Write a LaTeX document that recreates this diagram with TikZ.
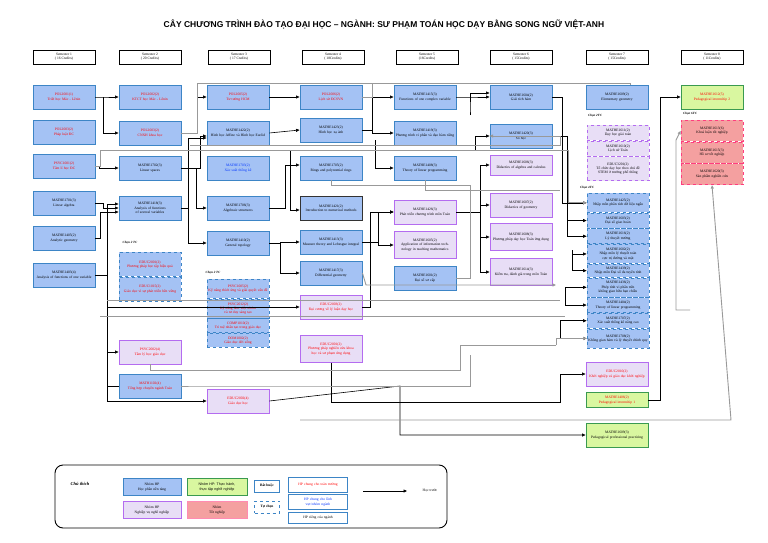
\documentclass[tikz,border=0pt]{standalone}
\usepackage{fontspec}
\setmainfont{Liberation Serif}
\newfontfamily\titlef{Liberation Sans}
\usetikzlibrary{arrows.meta,positioning}
\definecolor{bfill}{HTML}{A4C2F4}
\definecolor{bdraw}{HTML}{3D85C6}
\definecolor{pfill}{HTML}{E8DEF6}
\definecolor{pdraw}{HTML}{B46CF0}
\definecolor{gfill}{HTML}{D9F7A0}
\definecolor{gdraw}{HTML}{3A9A50}
\definecolor{rfill}{HTML}{F4A0A0}
\definecolor{rdraw}{HTML}{FF3D7F}
\begin{document}
\begin{tikzpicture}[x=1pt,y=-1pt,
 every node/.style={font=\fontsize{3.6}{4.3}\selectfont, align=center},
 base/.style={draw, line width=0.9pt, minimum width=62pt, minimum height=24pt, text width=60pt, inner sep=1pt},
 blu/.style={base, fill=bfill, draw=bdraw},
 pur/.style={base, fill=pfill, draw=pdraw},
 grn/.style={base, fill=gfill, draw=gdraw},
 dblu/.style={draw=bdraw, dashed, line width=0.7pt, fill=bfill, minimum width=62pt, text width=60pt, inner sep=0.5pt},
 dpur/.style={draw=pdraw, dashed, line width=0.7pt, fill=pfill, minimum width=62pt, text width=60pt, inner sep=0.5pt},
 drd/.style={draw=rdraw, dashed, line width=0.7pt, fill=rfill, minimum width=62pt, text width=60pt, inner sep=0.5pt},
 sem/.style={draw, line width=0.8pt, minimum width=62pt, minimum height=14pt, fill=white},
 hr/.style={text=red}, hb/.style={text=blue!80!cyan},
 lab/.style={font=\fontsize{3.2}{4}\selectfont\itshape\bfseries},
 ar/.style={-{Triangle[length=3.5pt,width=3pt]}, line width=0.6pt},
 gar/.style={-{Triangle[length=3.5pt,width=3pt]}, line width=0.9pt, draw=gray!80},
 gl/.style={line width=0.9pt, draw=gray!80},
 node distance=0pt]
\useasboundingbox (0,0) rectangle (768,543);
\fill[white] (0,0) rectangle (768,543);
\node[font=\titlef\bfseries\fontsize{8.5}{10}\selectfont] (title) at (384,24) {CÂY CHƯƠNG TRÌNH ĐÀO TẠO ĐẠI HỌC – NGÀNH: SƯ PHẠM TOÁN HỌC DẠY BẰNG SONG NGỮ VIỆT-ANH};
\foreach \i/\x/\c in {1/64/{( 16 Credits)},2/150/{( 20 Credits)},3/239/{( 17 Credits)},4/333/{( 18Credits)},5/427/{(16Credits)},6/521/{( 15Credits)},7/617/{( 15Credits)},8/712/{( 11Credits)}}
 \node[sem] (s\i) at (\x,57) {Semester \i\\ \c};
% column 1
\node[blu,hr] (a1) at (64,97) {POL2001(1)\\ Triết học Mác - Lênin};
\node[blu,hr] (a2) at (64,132) {POL2003(2)\\ Pháp luật ĐC};
\node[blu,hr] (a3) at (64,166) {PSYC1001(2)\\ Tâm lí học ĐC};
\node[blu] (a4) at (64,203) {MATHE1701(3)\\ Linear algebra};
\node[blu] (a5) at (64,238) {MATHE1405(2)\\ Analytic geometry};
\node[blu] (a6) at (64,275) {MATHE1403(4)\\ Analysis of functions of one variable};
% column 2
\node[blu,hr] (b1) at (150,97) {POL2002(2)\\ KTCT học Mác - Lênin};
\node[blu,hr] (b2) at (150,133) {POL2003(2)\\ CNXH khoa học};
\node[blu] (b3) at (150,168) {MATHE1702(3)\\ Linear spaces};
\node[blu] (b4) at (150,208) {MATHE1418(3)\\ Analysis of functions of several variables};
\node[lab] at (130,243) {Chọn 2 TC};
\node[dblu,hr,minimum height=24pt,anchor=north] (b5) at (150,252) {EDUC2001(2)\\ Phương pháp học tập hiệu quả};
\node[dblu,hr,minimum height=24pt,below=of b5] (b6) {EDUC1015(2)\\ Giáo dục vì sự phát triển bền vững};
\node[pur,hr] (b7) at (150,352) {PSYC2002(4)\\ Tâm lý học giáo dục};
\node[blu,hr] (b8) at (150,386) {MATH1102(4)\\ Tổng hợp chuyên ngành Toán};
% column 3
\node[blu,hr] (c1) at (238,97) {POL2005(2)\\ Tư tưởng HCM};
\node[blu] (c2) at (238,133) {MATHE1422(2)\\ Hình học Affine và Hình học Euclid};
\node[blu,hb] (c3) at (238,168) {MATHE1703(2)\\ Xác suất thống kê};
\node[blu] (c4) at (238,208) {MATHE1706(3)\\ Algebraic structures};
\node[blu] (c5) at (238,243) {MATHE1410(2)\\ General topology};
\node[lab] at (213,273) {Chọn 2 TC};
\node[dblu,hr,minimum height=19pt,anchor=north] (c6) at (238,279) {PSYC1005(2)\\ Kỹ năng thích ứng và giải quyết vấn đề};
\node[dblu,hr,minimum height=19pt,below=of c6] (c7) {PSYC2012(2)\\ Kỹ năng làm việc nhóm và tư duy sáng tạo};
\node[dblu,hr,minimum height=14pt,below=of c7] (c8) {COMP1010(2)\\ Trí tuệ nhân tạo trong giáo dục};
\node[dblu,hr,minimum height=14pt,below=of c8] (c9) {DOM1002(2)\\ Giáo dục đời sống};
\node[pur,hr] (c10) at (238,401) {EDUC2002(4)\\ Giáo dục học};
% column 4
\node[blu,hr] (d1) at (331,97) {POL2006(2)\\ Lịch sử ĐCSVN};
\node[blu] (d2) at (331,130) {MATHE1423(2)\\ Hình học xạ ảnh};
\node[blu] (d3) at (331,168) {MATHE1705(2)\\ Rings and polynomial rings};
\node[blu,draw=black!80] (d4) at (331,208) {MATHE1421(2)\\ Introduction to numerical methods};
\node[blu] (d5) at (331,242) {MATHE1413(3)\\ Measure theory and Lebesgue integral};
\node[blu] (d6) at (331,273) {MATHE1417(3)\\ Differential geometry};
\node[pur,hr] (d7) at (331,307) {EDUC2003(2)\\ Đại cương về lý luận dạy học};
\node[pur,hr,minimum height=27pt] (d8) at (331,349) {EDUC2001(2)\\ Phương pháp nghiên cứu khoa học và sư phạm ứng dụng};
% column 5
\node[blu] (e1) at (425,97) {MATHE1415(3)\\ Functions of one complex variable};
\node[blu] (e2) at (425,133) {MATHE1419(3)\\ Phương trình vi phân và đạo hàm riêng};
\node[blu] (e3) at (425,168) {MATHE1408(3)\\ Theory of linear programming};
\node[pur] (e4) at (425,212) {MATHE1426(3)\\ Phát triển chương trình môn Toán};
\node[pur,minimum height=27pt] (e5) at (425,245) {MATHE1605(2)\\ Application of information technology in teaching mathematics};
\node[blu] (e6) at (425,278) {MATHE1601(2)\\ Đại số sơ cấp};
% column 6
\node[blu] (f1) at (521,97) {MATHE1604(2)\\ Giải tích hàm};
\node[blu] (f2) at (521,136) {MATHE1420(3)\\ Số học};
\node[pur,minimum height=20pt] (f3) at (521,165) {MATHE1606(3)\\ Didactics of algebra and calculus};
\node[pur] (f4) at (521,205) {MATHE1607(2)\\ Didactics of geometry};
\node[pur,minimum height=27pt] (f5) at (521,237) {MATHE1608(3)\\ Phương pháp dạy học Toán ứng dụng};
\node[pur,minimum height=27pt] (f6) at (521,272) {MATHE1614(3)\\ Kiểm tra, đánh giá trong môn Toán};
% column 7
\node[blu] (g1) at (617,97) {MATHE1609(2)\\ Elementary geometry};
\node[lab] at (595,116) {Chọn 2TC};
\node[dpur,minimum height=15pt,anchor=north] (g2) at (618,125) {MATHE1611(2)\\ Dạy học giải toán};
\node[dpur,minimum height=15pt,below=of g2] (g3) {MATHE1610(2)\\ Lịch sử Toán};
\node[dpur,minimum height=24pt,below=of g3] (g4) {EDUC3201(2)\\ Tổ chức dạy học theo chủ đề STEM ở trường phổ thông};
\node[lab] at (587,188) {Chọn 4TC};
\node[dblu,minimum height=19pt,anchor=north] (h1) at (618,193) {MATHE1425(2)\\ Nhập môn phân tích dữ liệu ngẫu};
\node[dblu,minimum height=15pt,below=of h1] (h2) {MATHE1603(2)\\ Đại số giao hoán};
\node[dblu,minimum height=15pt,below=of h2] (h3) {MATHE1616(2)\\ Lý thuyết trường};
\node[dblu,minimum height=19pt,below=of h3] (h4) {MATHE1602(2)\\ Nhập môn lý thuyết toán cực trị đường và mặt};
\node[dblu,minimum height=13pt,below=of h4] (h5) {MATHE1439(2)\\ Nhập môn Đại số đa tuyến tính};
\node[dblu,minimum height=19pt,below=of h5] (h6) {MATHE1436(2)\\ Phép tính vi phân trên không gian hữu hạn chiều};
\node[dblu,minimum height=15pt,below=of h6] (h7) {MATHE1404(2)\\ Theory of linear programming};
\node[dblu,minimum height=15pt,below=of h7] (h8) {MATHE1707(2)\\ Xác suất thống kê nâng cao};
\node[dblu,minimum height=19pt,below=of h8] (h9) {MATHE1708(2)\\ Không gian hàm và lý thuyết chính quy};
\node[pur,hr] (g5) at (617,374) {EDUC2010(2)\\ Khởi nghiệp và giáo dục khởi nghiệp};
\node[grn,hr,minimum height=15pt] (g6) at (617,400) {MATHE1406(2)\\ Pedagogical internship 1};
\node[grn,minimum height=24pt] (g7) at (617,435) {MATHE1609(3)\\ Pedagogical professional practicing};
% column 8
\node[grn,hr] (k1) at (712,97) {MATHE1612(5)\\ Pedagogical internship 2};
\node[lab] at (690,114) {Chọn 6TC};
\node[drd,minimum height=21pt,anchor=north] (k2) at (712,120) {MATHE1613(6)\\ Khoá luận tốt nghiệp};
\node[drd,minimum height=21pt,below=of k2] (k3) {MATHE1615(3)\\ Hồ sơ tốt nghiệp};
\node[drd,minimum height=21pt,below=of k3] (k4) {MATHE1620(3)\\ Sản phẩm nghiên cứu};
% ---- connectors (black)
\draw[ar] (a1.east) -- (103,97) |- (b1.west);
\draw[ar] (103,97) |- (b2.west);
\draw[ar] (b2.east) -- (197,133) |- (c1.west);
\draw[ar] (c1.east) -- (d1.west);
\draw[ar] (c2.east) -- (d2.west);
\draw[ar] (a3.east) -- (99,166) |- (b3.west);
\draw[ar] (a4.east) -- (103,203) |- (b4.west);
\draw[ar] (a5.east) -- (100,238) |- ([yshift=-4pt]b4.west);
\draw[ar] (a6.east) -- (107,275) |- ([yshift=4pt]b4.west);
\draw[ar] (107,275) |- (b7.west);
\draw[ar] (107,350) |- (c10.west);
\draw[ar] (b3.east) -- (200,168) |- ([yshift=-3pt]c2.west);
\draw[ar] (b4.east) -- (188,208) |- (c5.west);
\draw[ar] (188,208) |- ([yshift=-5pt]c2.west);
\draw[ar] (196,168) |- (c4.west);
\draw[ar] (c4.east) -- (285,208) |- ([yshift=3pt]d3.west);
\draw[ar] (c5.east) -- (280,243) |- (d5.west);
\draw[ar] (280,243) |- (d6.west);
\draw[ar] (290,150) |- ([yshift=-2pt]d4.west);
\draw[ar] (d2.east) -- (372,130) |- (e1.west);
\draw[ar] (372,130) |- (e2.west);
\draw[ar] (375,140) |- (e3.west);
\draw[ar] (d5.east) -- (378,242) |- (e5.west);
\draw[ar] (378,242) |- (e4.west);
\draw[ar] (e1.east) -- (470,97) |- (f1.west);
\draw[ar] (470,115) -- (470,110) |- ([yshift=4pt]f1.west);
\draw[ar] (465,150) -- (475,150) |- (f2.west);
\draw[ar] (e4.east) -- (480,212) |- (f3.west);
\draw[ar] (480,212) |- (f4.west);
\draw[ar] (480,212) |- (f5.west);
\draw[ar] (480,212) |- (f6.west);
\draw[ar] (d7.east) -- (370,307) |- (e4.west);
\draw[ar] (f1.east) -- (562,97) |- (h1.west);
\draw[ar] (f2.east) -- (567,136) |- (h2.west);
\draw[ar] (567,221) |- (h3.west);
\draw[ar] (572,250) |- (h4.west);
\draw[ar] (572,250) |- (h5.west);
\draw[ar] (565,287) |- (h6.west);
\draw[ar] (565,287) |- (h7.west);
\draw[ar] (560,320) |- (h8.west);
\draw[ar] (560,320) |- (h9.west);
\draw[ar] (d8.south) -- (331,402) -- (560,402) |- (g5.west);
\draw[ar] (c10.east) -- (400,386) |- (g7.west);
\draw[ar] (g6.east) -- (660,400) -- (660,97) -- (k1.west);
\draw[ar] (b8.west) -- (107,386) |- (d7.west);
% gray connectors
\draw[gl] (a3.east) -- (100,166) -- (100,150) -- (568,150);
\draw[gar] (568,150) |- (h1.west);
\draw[gl] (b2.east) -- (197,133) -- (197,83) -- (630,83) -- (630,85);
\draw[gar] (190,145) -- (560,145) |- (f2.west);
\draw[gl] (b7.south) -- (150,370) -- (460,370) -- (460,345) -- (556,345);
\draw[gar] (556,345) |- (h9.west);
\draw[gar] (d6.east) -- (366,285) -- (556,285);
\draw[gl] (b8.east) -- (195,386) -- (470,386) -- (470,355);
\draw[gar] (300,420) -- (731,420) -- (k4.south);
\draw[gar] (690,310) -- (676,310) -- (676,140) -- (k2.west);
\draw[gl] (107,300) -- (560,300);
\draw[gl] (100,316) -- (565,316);
\draw[gl] (d1.east) -- (372,97) -- (372,83);
\draw[gl] (d3.south) -- (331,185) -- (470,185) |- (e6.east);
\draw[gl] (e3.south) -- (425,190) -- (560,190);
% legend
\draw[line width=0.9pt, rounded corners=8pt] (55,465) rectangle (447,528);
\node[lab, font=\fontsize{4.5}{5}\selectfont\itshape\bfseries] (lg0) at (80,484) {Chú thích};
\node[blu, minimum width=58pt, text width=56pt, minimum height=17pt] (lg1) at (152,487) {Nhóm HP\\ Học phần nền tảng};
\node[grn, minimum width=60pt, text width=58pt, minimum height=17pt, font=\titlef\fontsize{3.6}{4.3}\selectfont] (lg2) at (217,487) {Nhóm HP: Thực hành, thực tập nghề nghiệp};
\node[pur, minimum width=58pt, text width=56pt, minimum height=17pt] (lg3) at (152,510) {Nhóm HP\\ Nghiệp vụ nghề nghiệp};
\node[base, fill=rfill, draw=rdraw!60, minimum width=60pt, text width=58pt, minimum height=17pt] (lg4) at (217,510) {Nhóm\\ Tốt nghiệp};
\node[draw=bdraw, line width=0.8pt, minimum width=25pt, minimum height=12pt, font=\fontsize{3.6}{4.3}\selectfont\bfseries] (lg5) at (267,486) {Bắt buộc};
\node[draw=bdraw, dashed, line width=0.8pt, minimum width=25pt, minimum height=12pt, font=\fontsize{3.6}{4.3}\selectfont\bfseries] (lg6) at (267,507) {Tự chọn};
\node[draw=bdraw, line width=0.8pt, minimum width=54pt, text width=52pt, minimum height=15pt, hr] (lg7) at (318,485) {HP chung cho toàn trường};
\node[draw=bdraw, line width=0.8pt, minimum width=54pt, text width=52pt, minimum height=14pt, hb] (lg8) at (318,502) {HP chung cho lĩnh vực/nhóm ngành};
\node[draw=bdraw, line width=0.8pt, minimum width=54pt, text width=52pt, minimum height=11pt] (lg9) at (318,518) {HP riêng của ngành};
\coordinate (la) at (363,491);
\coordinate (lb) at (407,491);
\draw[ar] (la) -- (lb);
\node (lg10) at (430,491) {Học trước};
\end{tikzpicture}
\end{document}
